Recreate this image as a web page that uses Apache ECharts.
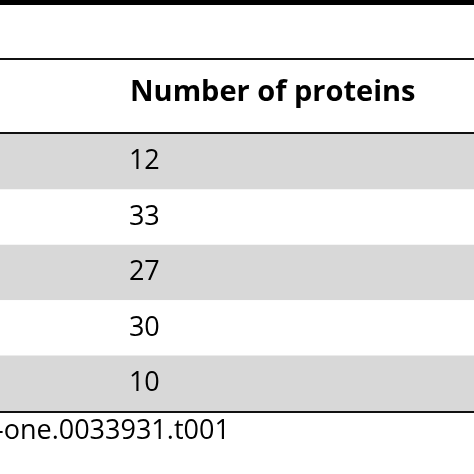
<!DOCTYPE html>
<html>
<head>
<meta charset="utf-8">
<script src="https://cdn.jsdelivr.net/npm/echarts@6/dist/echarts.min.js"></script>
<style>html,body{margin:0;padding:0;background:#fff}#main{width:474px;height:474px}</style>
</head>
<body>
<div id="main"></div>
<script>
// 表格数据
var rows = ['r1', 'r2', 'r3', 'r4', 'r5'];
var proteins = [12, 33, 27, 30, 10];
var header = 'Number of proteins';
var footer = '-one.0033931.t001';

var myChart = echarts.init(document.getElementById('main'));
var font = '"Open Sans", "DejaVu Sans", sans-serif';

var option = {
    backgroundColor: '#fff',
    animation: false,
    grid: { left: 0, right: 0, top: 134, bottom: 63 },
    xAxis: { type: 'value', min: 0, max: 1, show: false },
    yAxis: {
        type: 'category', data: rows, inverse: true,
        axisLine: { show: false }, axisTick: { show: false }, axisLabel: { show: false },
        splitLine: { show: false },
        splitArea: { show: true, areaStyle: { color: ['#d8d8d8', '#ffffff'] } }
    },
    series: [{
        type: 'scatter',
        symbolSize: 0,
        itemStyle: { opacity: 1 },
        data: proteins.map(function (v, i) { return [0.272, i, v]; }),
        label: {
            show: true, position: 'right', distance: 0,
            formatter: function (p) { return p.value[2]; },
            fontFamily: font, fontSize: 27, color: '#000', opacity: 1
        }
    }],
    graphic: [
        { type: 'rect', shape: { x: 0, y: 0, width: 474, height: 5 }, style: { fill: '#000' } },
        { type: 'rect', shape: { x: 0, y: 58, width: 474, height: 2 }, style: { fill: '#111' } },
        { type: 'rect', shape: { x: 0, y: 132, width: 474, height: 2 }, style: { fill: '#111' } },
        { type: 'rect', shape: { x: 0, y: 411, width: 474, height: 2 }, style: { fill: '#111' } },
        { type: 'text', left: 130, top: 78, style: { text: header, font: 'bold 29px ' + font, fill: '#000' } },
        { type: 'text', left: -5, top: 418, style: { text: footer, font: '27px ' + font, fill: '#000' } }
    ]
};
myChart.setOption(option);
</script>
</body>
</html>
